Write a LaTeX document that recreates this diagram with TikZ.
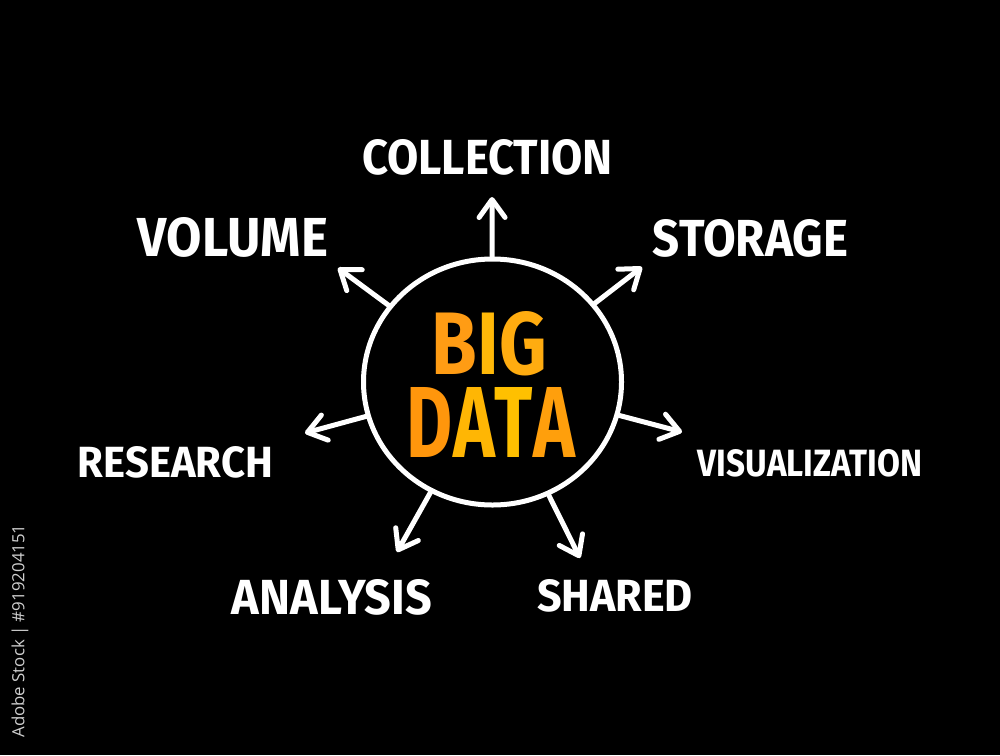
\documentclass[tikz,border=0pt]{standalone}
\usepackage{fontspec}
\setmainfont{Fira Sans}
\newfontfamily\idfont{Open Sans}
\usetikzlibrary{arrows.meta,shapes.geometric}
\definecolor{bdA}{HTML}{FF9C14}
\definecolor{bdB}{HTML}{FFB808}
\definecolor{bdC}{HTML}{FFAC10}
\definecolor{bdD}{HTML}{FF960C}
\definecolor{bdE}{HTML}{FFB604}
\definecolor{bdF}{HTML}{FFC000}
\definecolor{bdG}{HTML}{FF9F0C}
\definecolor{idgray}{HTML}{CFCFCF}
\newcommand{\lbl}[3]{\resizebox{#1pt}{#2pt}{\bfseries #3}}
\begin{document}
\begin{tikzpicture}[x=1pt, y=-1pt,
  lab/.style={text=white, inner sep=0, anchor=center},
  arr/.style={draw=white, line width=5pt, line cap=round,
    -{Straight Barb[length=18pt, width=26pt, round]}},
  hub/.style={draw=white, line width=5pt, ellipse, minimum width=258pt,
    minimum height=246pt, inner sep=0}]
  \path[use as bounding box, fill=black] (0,0) rectangle (1000,755);
  % hub
  \node[hub] (c) at (492.5,382) {};
  \node[inner sep=0] (big) at (489.5,343.5)
    {\lbl{115}{63}{\textcolor{bdA}{B}\textcolor{bdB}{I}\textcolor{bdC}{G}}};
  \node[inner sep=0] (data) at (491,422)
    {\lbl{168}{70}{\textcolor{bdD}{D}\textcolor{bdE}{A}\textcolor{bdF}{T}\textcolor{bdG}{A}}};
  % labels
  \node[lab] (collection) at (487.5,157.5) {\lbl{251}{35}{COLLECTION}};
  \node[lab] (storage) at (750.5,238.5) {\lbl{195}{37}{STORAGE}};
  \node[lab] (volume) at (233,237.5) {\lbl{190}{39}{VOLUME}};
  \node[lab] (research) at (175.5,462.5) {\lbl{195}{31}{RESEARCH}};
  \node[lab] (visualization) at (810,463.5) {\lbl{224}{27}{VISUALIZATION}};
  \node[lab] (analysis) at (332,597.5) {\lbl{200}{35}{ANALYSIS}};
  \node[lab] (shared) at (615,596) {\lbl{156}{32}{SHARED}};
  % arrow tips
  \coordinate (t1) at (492,197);
  \coordinate (t2) at (642,267);
  \coordinate (t3) at (682,432);
  \coordinate (t4) at (580,558);
  \coordinate (t5) at (397,552);
  \coordinate (t6) at (305,433);
  \coordinate (t7) at (338,268);
  \foreach \t in {t1,t2,t3,t4,t5,t6,t7} \draw[arr] (c) -- (\t);
  % stock id
  \node[text=idgray, inner sep=0, rotate=90] (stockid) at (20,631)
    {\resizebox{213pt}{!}{\idfont Adobe Stock | \#919204151}};
\end{tikzpicture}
\end{document}
